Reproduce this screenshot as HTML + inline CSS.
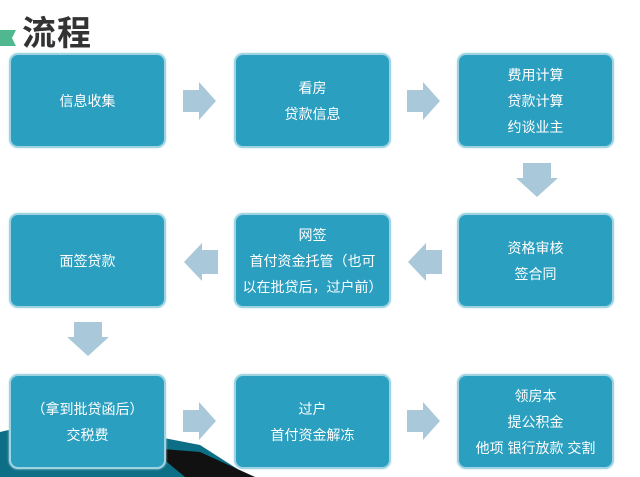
<!DOCTYPE html>
<html><head><meta charset="utf-8"><style>
body{margin:0;width:640px;height:477px;overflow:hidden;background:#fff;font-family:"Liberation Sans","Noto Sans CJK SC",sans-serif;}
svg{position:absolute;left:0;top:0}
.b{position:absolute;width:153px;height:91px;background:#2a9fc0;border:2px solid #9fd3e2;border-radius:9px;color:#fff;font-size:14px;display:flex;flex-direction:column;justify-content:center;align-items:center;text-align:center;line-height:26px;box-shadow:0 0 2px #bde3ee}
</style></head><body>
<svg width="640" height="477">
<polygon points="0,432 60,418 200,445 250,477 0,477" fill="#0d6f86"/>
<polygon points="150,448 200,452 255,477 185,477" fill="#111"/>
<polygon points="0,30 16,30 12,38 16,46 0,46" fill="#4fb890"/>
<g fill="#a9c9da">
<polygon points="183,90 199,90 199,82 216,101 199,120 199,112 183,112"/>
<polygon points="407,90 423,90 423,82 440,101 423,120 423,112 407,112"/>
<polygon points="523,163 551,163 551,178 558,178 537,197 516,178 523,178"/>
<polygon points="442,250 426,250 426,243 408,262 426,281 426,274 442,274"/>
<polygon points="218,250 202,250 202,243 184,262 202,281 202,274 218,274"/>
<polygon points="74,322 102,322 102,337 109,337 88,356 67,337 74,337"/>
<polygon points="183,410 199,410 199,402 216,421 199,440 199,432 183,432"/>
<polygon points="407,410 423,410 423,402 440,421 423,440 423,432 407,432"/>
</g>
</svg>
<div style="position:absolute;left:22px;top:6px;font-size:34px;color:#333;font-weight:bold;letter-spacing:1px">流程</div>
<div class="b" style="left:9px;top:53px">信息收集</div>
<div class="b" style="left:234px;top:53px">看房<br>贷款信息</div>
<div class="b" style="left:457px;top:53px">费用计算<br>贷款计算<br>约谈业主</div>
<div class="b" style="left:9px;top:213px;justify-content:flex-start;padding-top:0"><div style="margin-top:33px">面签贷款</div></div>
<div class="b" style="left:234px;top:213px">网签<br>首付资金托管（也可<br>以在批贷后，过户前）</div>
<div class="b" style="left:457px;top:213px">资格审核<br>签合同</div>
<div class="b" style="left:9px;top:374px">（拿到批贷函后）<br>交税费</div>
<div class="b" style="left:234px;top:374px">过户<br>首付资金解冻</div>
<div class="b" style="left:457px;top:374px">领房本<br>提公积金<br>他项 银行放款 交割</div>
</body></html>
